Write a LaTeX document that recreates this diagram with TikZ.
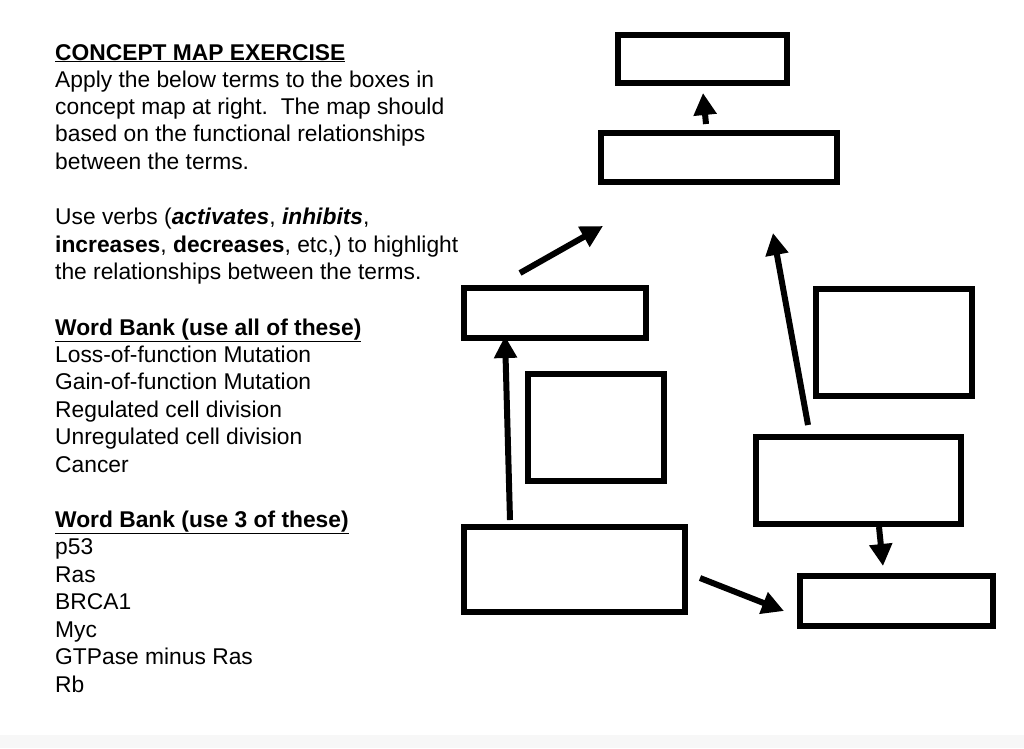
\documentclass[tikz,border=0pt]{standalone}
\usepackage{fontspec}
\setmainfont{Liberation Sans}
\usetikzlibrary{arrows.meta}
\begin{document}
\begin{tikzpicture}[x=1pt,y=-1pt,
  bx/.style={draw=black,line width=6pt},
  arr/.style={line width=6pt,-{Triangle[length=22pt,width=22pt]}},
  tx/.style={anchor=base west,inner sep=0pt,font=\fontsize{22.8}{27}\selectfont}]
\useasboundingbox[fill=white] (0,0) rectangle (1024,748);
\fill[gray!6] (0,735) rectangle (1024,748);
\draw[bx] (618,35) rectangle (787,83);
\draw[bx] (601,133) rectangle (837,182);
\draw[bx] (464,288) rectangle (646,338);
\draw[bx] (528,374) rectangle (664,481);
\draw[bx] (816,289) rectangle (972,396);
\draw[bx] (756,437) rectangle (961,524);
\draw[bx] (464,527) rectangle (685,612);
\draw[bx] (800,576) rectangle (993,626);
\coordinate (a1s) at (706,124); \coordinate (a1e) at (703,93);
\coordinate (a2s) at (520,273); \coordinate (a2e) at (603,226);
\coordinate (a3s) at (510,520); \coordinate (a3e) at (505,336);
\coordinate (a4s) at (808,425); \coordinate (a4e) at (773,233);
\coordinate (a5s) at (700,578); \coordinate (a5e) at (784,611);
\coordinate (a6s) at (879,527); \coordinate (a6e) at (883,566);
\foreach \i in {1,...,6} \draw[arr] (a\i s) -- (a\i e);
\node[tx] (t0) at (55,60) {\textbf{\underline{CONCEPT MAP EXERCISE}}};
\node[tx] (t1) at (55,87) {Apply the below terms to the boxes in};
\node[tx] (t2) at (55,114) {concept map at right.\ \ The map should};
\node[tx] (t3) at (55,141) {based on the functional relationships};
\node[tx] (t4) at (55,169) {between the terms.};
\node[tx] (t5) at (55,224) {Use verbs (\textbf{\textit{activates}}, \textbf{\textit{inhibits}},};
\node[tx] (t6) at (55,252) {\textbf{increases}, \textbf{decreases}, etc,) to highlight};
\node[tx] (t7) at (55,279) {the relationships between the terms.};
\node[tx] (t8) at (55,335) {\textbf{\underline{Word Bank (use all of these)}}};
\node[tx] (t9) at (55,362) {Loss-of-function Mutation};
\node[tx] (t10) at (55,389) {Gain-of-function Mutation};
\node[tx] (t11) at (55,417) {Regulated cell division};
\node[tx] (t12) at (55,444) {Unregulated cell division};
\node[tx] (t13) at (55,472) {Cancer};
\node[tx] (t14) at (55,527) {\textbf{\underline{Word Bank (use 3 of these)}}};
\node[tx] (t15) at (55,554) {p53};
\node[tx] (t16) at (55,582) {Ras};
\node[tx] (t17) at (55,609) {BRCA1};
\node[tx] (t18) at (55,637) {Myc};
\node[tx] (t19) at (55,664) {GTPase minus Ras};
\node[tx] (t20) at (55,692) {Rb};
\end{tikzpicture}
\end{document}
